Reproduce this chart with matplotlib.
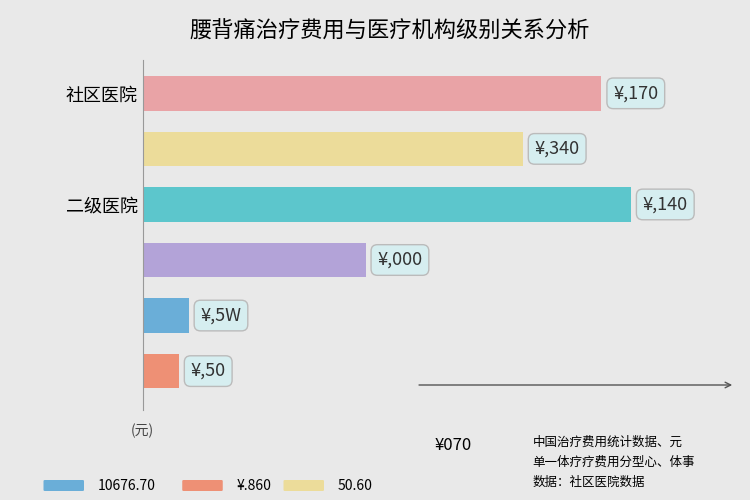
import matplotlib.pyplot as plt
from matplotlib.patches import FancyBboxPatch

plt.rcParams['font.family'] = ['Noto Sans CJK SC', 'DejaVu Sans']

values = [467, 387, 497, 227, 47, 37]
colors = ['#e9a3a6', '#ecdc9a', '#5cc6cc', '#b3a3d8', '#6aaed8', '#ee9075']
value_labels = ['¥,170', '¥,340', '¥,140', '¥,000', '¥,5W', '¥,50']
ytick_labels = ['社区医院', '', '二级医院', '', '', '']
legend_labels = ['10676.70', '¥.860', '50.60']
legend_colors = ['#6aaed8', '#ee9075', '#ecdc9a']

fig = plt.figure(figsize=(7.5, 5), dpi=100)
fig.patch.set_facecolor('#e9e9e9')
ax = fig.add_axes([0.19, 0.18, 0.76, 0.70])
ax.set_facecolor('#e9e9e9')

ypos = list(range(len(values)))
ax.barh(ypos, values, height=0.62, color=colors, edgecolor='none')
for y, v, lab in zip(ypos, values, value_labels):
    ax.text(v + 12, y, lab, va='center', ha='left', fontsize=13, color='#333333',
            bbox=dict(boxstyle='round,pad=0.35', fc='#d6eef0', ec='#bbbbbb'))

ax.set_xlim(0, 580)
ax.set_ylim(5.7, -0.6)
ax.set_yticks(ypos)
ax.set_yticklabels(ytick_labels, fontsize=13)
ax.tick_params(axis='y', length=0)
ax.set_xticks([])
for s in ['top', 'right', 'bottom']:
    ax.spines[s].set_visible(False)
ax.spines['left'].set_color('#999999')

fig.text(0.52, 0.925, '腰背痛治疗费用与医疗机构级别关系分析', ha='center', fontsize=16)
fig.text(0.175, 0.13, '(元)', fontsize=10, color='#444444')
ax.annotate('', xy=(0.98, 0.23), xytext=(0.555, 0.23), xycoords='figure fraction',
            arrowprops=dict(arrowstyle='->', color='#555555'))
fig.text(0.58, 0.1, '¥070', fontsize=12)
fig.text(0.71, 0.075, '中国治疗费用统计数据、元\n单一体疗疗费用分型心、体事\n数据：社区医院数据', fontsize=9,
         linespacing=1.7, va='center')

legend_x = [0.06, 0.245, 0.38]
for x0, lab, c in zip(legend_x, legend_labels, legend_colors):
    fig.patches.append(FancyBboxPatch((x0, 0.02), 0.05, 0.018, boxstyle='round,pad=0.002',
                                      transform=fig.transFigure, fc=c, ec='none'))
    fig.text(x0 + 0.07, 0.029, lab, va='center', fontsize=10)

fig.savefig('out.png', dpi=100, facecolor=fig.get_facecolor())
